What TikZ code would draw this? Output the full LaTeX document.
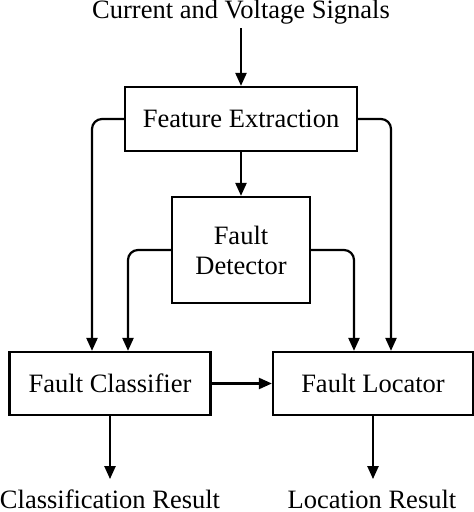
\documentclass[tikz,border=0pt]{standalone}
\usepackage{fontspec}
\setmainfont{Liberation Serif}
\usepackage{tikz}
\usetikzlibrary{arrows.meta,positioning,calc}

\begin{document}
\begin{tikzpicture}[x=1pt,y=-1pt,font=\fontsize{26.5}{30}\selectfont,line width=2.2pt,box/.style={draw=black,line width=2.2pt,align=center,inner sep=0pt},arr/.style={-{Triangle[length=13pt,width=11pt]},line width=2.2pt}]
    \useasboundingbox (0,0) rectangle (474,512);
    % Nodes placed at coordinates, boxes sized to match
    \node at (241,12) (sig) {Current and Voltage Signals};
    \node[box,minimum width=232pt,minimum height=64pt] at (241,119) (feat) {Feature Extraction};
    \node[box,minimum width=138pt,minimum height=106pt,align=center] at (241,250) (det) {Fault\\Detector};
    \node[box,minimum width=201pt,minimum height=63pt] at (110,383.5) (cls) {Fault Classifier};
    \node[box,minimum width=200pt,minimum height=63pt] at (373,383.5) (loc) {Fault Locator};
    \node at (110,499) (clsres) {Classification Result};
    \node at (372,499) (locres) {Location Result};

    \draw[arr] (sig) -- (feat);
    \draw[arr] (feat) -- (det);
    \draw[arr,rounded corners=10pt] (feat.west) -| ([xshift=-18pt]cls.north);
    \draw[arr,rounded corners=10pt] (feat.east) -| ([xshift=18pt]loc.north);
    \draw[arr,rounded corners=10pt] (det.west) -| ([xshift=18pt]cls.north);
    \draw[arr,rounded corners=10pt] (det.east) -| ([xshift=-19pt]loc.north);
    \draw[arr] (cls) -- (loc);
    \draw[arr] (cls.south) -- ++(0,63);
    \draw[arr] (loc.south) -- ++(0,63);
\end{tikzpicture}
\end{document}
